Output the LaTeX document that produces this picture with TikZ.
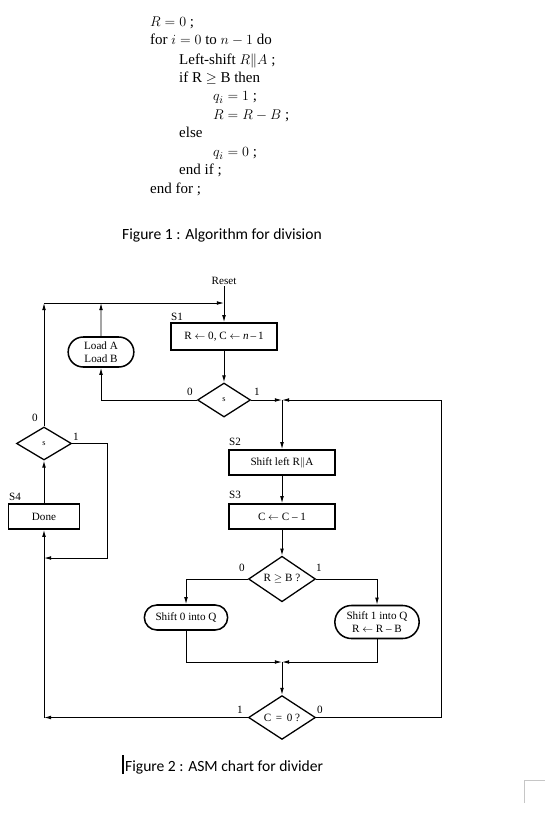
\documentclass[tikz,border=0pt]{standalone}
\usepackage{fontspec}
\setmainfont{Liberation Serif}
\newfontfamily\capfont{Carlito}
\usetikzlibrary{shapes.geometric,shapes.misc,arrows.meta}

\tikzset{
	chartfont/.style={font=\fontsize{9.5}{11}\selectfont},
	statebox/.style={draw, chartfont, line width=1.3pt, minimum width=3.18cm, minimum height=0.75cm, inner sep=1pt},
	condbox/.style={draw, chartfont, rounded rectangle, line width=1.3pt, minimum height=0.75cm, inner sep=2pt, align=center},
	decision/.style={draw, chartfont, diamond, line width=1.1pt, inner sep=0pt},
	bit/.style={chartfont, inner sep=1pt},
	flow/.style={->, thick},
	algline/.style={anchor=base west, inner sep=0pt, font=\fontsize{12.8}{15}\selectfont},
	figcaption/.style={anchor=base west, inner sep=0pt, font=\capfont\fontsize{13.3}{16}\selectfont},
}

\begin{document}
\begin{tikzpicture}[x=0.03cm, y=-0.03cm, >={Latex[length=6pt,width=3.2pt]}]
	\useasboundingbox (0,0) rectangle (545,819);
	
	% algorithm
	\node[algline] (al1) at (150,27) {$R=0$ ;};
	\node[algline] (al2) at (150,45) {for $i=0$ to $n-1$ do};
	\node[algline] (al3) at (179,65) {Left-shift $R\|A$ ;};
	\node[algline] (al4) at (179,83) {if R $\geq$ B then};
	\node[algline] (al5) at (213,101) {$q_i=1$ ;};
	\node[algline] (al6) at (213,120) {$R=R-B$ ;};
	\node[algline] (al7) at (179,138) {else};
	\node[algline] (al8) at (213,157) {$q_i=0$ ;};
	\node[algline] (al9) at (179,175) {end if ;};
	\node[algline] (al10) at (150,194) {end for ;};
	
	\node[figcaption] (cap1) at (122,239) {Figure 1 : Algorithm for division};
	
	% states and decisions
	\node[bit] (reset) at (224,281) {Reset};
	\node[statebox, minimum height=0.81cm] (s1) at (224,336.5) {R $\leftarrow$ 0, C $\leftarrow$ \textit{n}\,--\,1};
	\node[condbox, minimum width=2.04cm, minimum height=0.9cm, inner sep=1pt] (load) at (101,352) {Load A\\Load B};
	\node[decision, minimum width=1.59cm, minimum height=1.02cm] (sA) at (224,400) {\scriptsize s};
	\node[decision, minimum width=1.65cm, minimum height=0.99cm] (sB) at (44,443.5) {\scriptsize s};
	\node[statebox, minimum width=2.13cm] (done) at (44,516.5) {Done};
	\node[statebox] (s2) at (282,462.5) {Shift left R$\|$A};
	\node[statebox] (s3) at (282,516.5) {C $\leftarrow$ C -- 1};
	\node[decision, minimum width=2.01cm, minimum height=1.26cm] (rgeb) at (282,579) {R $\geq$ B ?};
	\node[condbox, minimum width=2.64cm] (sh0) at (186,617.5) {Shift 0 into Q};
	\node[condbox, minimum width=2.67cm, minimum height=0.99cm] (sh1) at (377,622) {Shift 1 into Q\\R $\leftarrow$ R -- B};
	\node[decision, minimum width=2.01cm, minimum height=1.23cm] (czero) at (282,717.5) {C~\,=~\,0~?};
	
	% state names
	\node[bit] (lS1) at (177,317) {S1};
	\node[bit] (lS2) at (235,442) {S2};
	\node[bit] (lS3) at (235,495) {S3};
	\node[bit] (lS4) at (15,497) {S4};
	
	% branch values
	\node[bit] (sA0) at (190,392) {0};
	\node[bit] (sA1) at (257,392) {1};
	\node[bit] (sB0) at (35,418) {0};
	\node[bit] (sB1) at (76,437) {1};
	\node[bit] (rgeb0) at (242,568) {0};
	\node[bit] (rgeb1) at (319,568) {1};
	\node[bit] (cz1) at (240,710) {1};
	\node[bit] (cz0) at (320,710) {0};
	
	% junctions
	\coordinate (jtop) at (224,303);
	\coordinate (jright) at (282,400);
	\coordinate (jback) at (441,717.5);
	\coordinate (jmerge) at (282,662);
	\coordinate (jside) at (107,443.5);
	\coordinate (jdone) at (44,558);
	\coordinate (jloop) at (44,717.5);
	
	\draw[flow] (reset) -- (s1);
	\draw[flow] (sB) -- (sB |- jtop);
	\draw[flow] (load) -- (load |- jtop);
	\draw[flow] (sB |- jtop) -- (jtop);
	\draw[flow] (s1) -- (sA);
	\draw[flow] (sA) -| (load);
	\draw[flow] (sA) -- (jright);
	\draw[flow] (czero) -- (jback) |- (jright);
	\draw[flow] (jright) -- (s2);
	\draw[flow] (s2) -- (s3);
	\draw[flow] (s3) -- (rgeb);
	\draw[flow] (rgeb) -| (sh0);
	\draw[flow] (rgeb) -| (sh1);
	\draw[flow] (sh0) |- (jmerge);
	\draw[flow] (sh1) |- (jmerge);
	\draw[flow] (jmerge) -- (czero);
	\draw[flow] (czero) -- (jloop);
	\draw[flow] (jloop) -- (done);
	\draw[flow] (done) -- (sB);
	\draw[flow] (sB) -- (jside) |- (jdone);
	
	\node[figcaption] (cap2) at (125,771) {Figure 2 : ASM chart for divider};
	\draw[line width=1.2pt] (123,755) -- (123,774);
	\draw[gray!45, line width=0.8pt] (524,803) -- (524,780) -- (545,780);
	
\end{tikzpicture}
\end{document}
